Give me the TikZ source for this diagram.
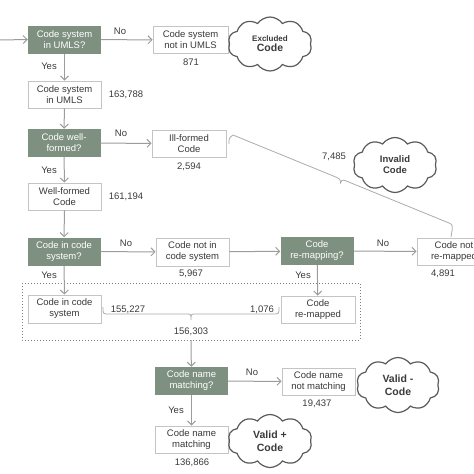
\documentclass[tikz,border=0pt]{standalone}
\usepackage{fontspec}
\setmainfont{Liberation Sans}
\usetikzlibrary{arrows.meta,shapes.symbols,calc}
\definecolor{decfill}{HTML}{7E9080}
\definecolor{boxline}{HTML}{C4C4C4}
\definecolor{arr}{HTML}{9C9C9C}
\definecolor{txt}{HTML}{3A3A3A}
\definecolor{cloudline}{HTML}{5A5A5A}
\begin{document}
\begin{tikzpicture}[x=1pt,y=-1pt,
  decbox/.style={rectangle,fill=decfill,text=white,minimum width=73pt,minimum height=28pt,inner sep=1pt,align=center,font=\fontsize{9.5}{11}\selectfont},
  plainbox/.style={rectangle,draw=boxline,line width=0.8pt,fill=white,text=txt,minimum width=73pt,minimum height=27pt,inner sep=1pt,align=center,font=\fontsize{9.5}{11}\selectfont},
  lbl/.style={text=txt,font=\fontsize{9.5}{11}\selectfont,inner sep=0pt},
  flow/.style={draw=arr,line width=1pt,-{Straight Barb[length=4pt,width=8pt,line width=1pt]}},
  brc/.style={draw=arr!85!white,line width=0.8pt},
  cloudn/.style={cloud,cloud puffs=10,cloud puff arc=110,aspect=1.5,draw=cloudline,line width=1.2pt,fill=white,text=txt,align=center,inner sep=0pt,font=\bfseries\fontsize{9.5}{11}\selectfont}
]
\useasboundingbox (0,0) rectangle (474,474);
% nodes
\coordinate (start) at (0,40);
\node[decbox] (d1) at (64.5,39.5) {Code system\\in UMLS?};
\node[plainbox,minimum width=75pt] (n1) at (190.5,40) {Code system\\not in UMLS};
\node[cloudn,minimum width=84pt,minimum height=54pt] (c1) at (270,44) {{\fontsize{8}{9}\selectfont Excluded}\\[-1pt]{\fontsize{10.5}{12}\selectfont Code}};
\node[plainbox] (b1) at (64.5,94.5) {Code system\\in UMLS};
\node[decbox] (d2) at (64,143) {Code well-\\formed?};
\node[plainbox,minimum width=74pt] (n2) at (189,143.5) {Ill-formed\\Code};
\node[plainbox] (b2) at (64.5,196.5) {Well-formed\\Code};
\node[cloudn,minimum width=84pt,minimum height=55pt] (c2) at (395,165) {Invalid\\Code};
\node[decbox] (d3) at (64,251.5) {Code in code\\system?};
\node[plainbox,minimum height=28pt] (n3) at (192.5,252) {Code not in\\code system};
\node[decbox] (d4) at (317,251) {Code\\re-mapping?};
\node[plainbox,minimum width=74pt] (n4) at (454,251.5) {Code not\\re-mapped};
\node[plainbox,minimum height=28pt] (b3) at (64.5,309) {Code in code\\system};
\node[plainbox,minimum width=74pt] (b4) at (318,309.5) {Code\\re-mapped};
\draw[draw=arr!80!black,line width=1pt,dotted] (22,283) rectangle (360,340);
\coordinate (grp) at (191,340);
\node[decbox] (d5) at (191.5,381) {Code name\\matching?};
\node[plainbox] (n5) at (318.5,381.5) {Code name\\not matching};
\node[cloudn,minimum width=83pt,minimum height=55pt,font=\bfseries\fontsize{10.5}{12.5}\selectfont] (c3) at (398,385) {Valid -\\Code};
\node[plainbox] (b5) at (191.5,439.5) {Code name\\matching};
\node[cloudn,minimum width=84pt,minimum height=53pt,font=\bfseries\fontsize{10.5}{12.5}\selectfont] (c4) at (270,441) {Valid +\\Code};
% connectors
\draw[flow] (start) -- (d1.west);
\draw[flow] (d1) -- (n1);
\draw[flow] (d1) -- (b1);
\draw[flow] (b1) -- (d2);
\draw[flow] (d2) -- (n2);
\draw[flow] (d2) -- (b2);
\draw[flow] (b2) -- (d3);
\draw[flow] (d3) -- (n3);
\draw[flow] (n3) -- (d4);
\draw[flow] (d4) -- (n4);
\draw[flow] (d3) -- (b3);
\draw[flow] (d4) -- (b4);
\draw[flow] (grp) -- (d5);
\draw[flow] (d5) -- (n5);
\draw[flow] (d5) -- (b5);
% yes/no labels
\node[lbl] (l1) at (120,31) {No};
\node[lbl] (l2) at (49,66) {Yes};
\node[lbl] (l3) at (121,133) {No};
\node[lbl] (l4) at (49,170) {Yes};
\node[lbl] (l5) at (126,243) {No};
\node[lbl] (l6) at (49,275) {Yes};
\node[lbl] (l7) at (383,243) {No};
\node[lbl] (l8) at (303,275) {Yes};
\node[lbl] (l9) at (252,372) {No};
\node[lbl] (l10) at (176,410) {Yes};
% counts
\node[lbl] (k1) at (191,62) {871};
\node[lbl] (k2) at (126,95) {163,788};
\node[lbl] (k3) at (189,167) {2,594};
\node[lbl] (k4) at (126,197) {161,194};
\node[lbl] (k5) at (191,274) {5,967};
\node[lbl] (k6) at (443,274) {4,891};
\node[lbl] (k7) at (128,310) {155,227};
\node[lbl] (k8) at (262,310) {1,076};
\node[lbl] (k9) at (191,332) {156,303};
\node[lbl] (k10) at (317,404) {19,437};
\node[lbl] (k11) at (192,463) {136,866};
\node[lbl] (k12) at (334,157) {7,485};
% braces
\draw[brc] (229,144) .. controls (229,138) .. (233,135) -- (337,177.5) .. controls (340,179) .. (340.5,183) .. controls (341.5,180) .. (345,180.5) -- (449,223) .. controls (453,225) .. (451,237);
\draw[brc] (103,307) .. controls (103,314) .. (109,314) -- (186,314) .. controls (191,314) .. (191,320) .. controls (191,314) .. (196,314) -- (273,314) .. controls (279,314) .. (279,307);
\end{tikzpicture}
\end{document}
